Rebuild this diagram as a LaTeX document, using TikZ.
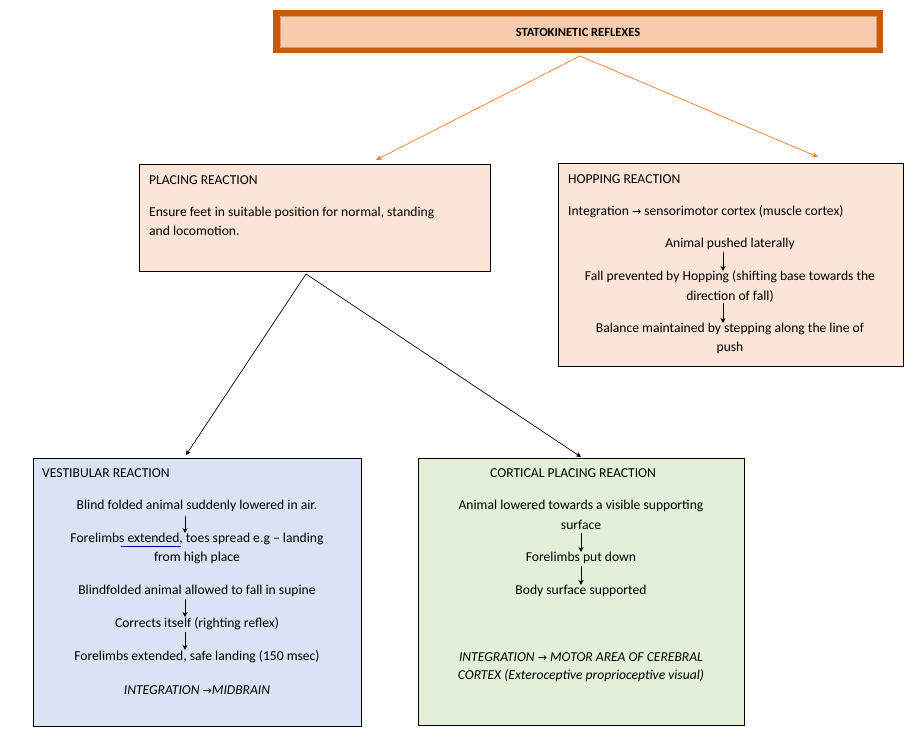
\documentclass[tikz,border=0pt]{standalone}
\usepackage{fontspec}
\setmainfont{Carlito}
\newfontfamily\symf{DejaVu Sans}
\usetikzlibrary{arrows.meta}
\newcommand{\rarr}{{\symf\fontsize{11}{11}\selectfont →}}
\begin{document}
\begin{tikzpicture}[x=1pt,y=-1pt,
  txt/.style={font=\fontsize{13.6}{16}\selectfont, inner sep=0pt},
  lt/.style={txt,anchor=west},
  ar/.style={-{Stealth[length=5pt,width=5pt]},line width=0.7pt},
  oar/.style={-{Stealth[length=6pt,width=5pt]},draw={rgb,255:red,237;green,125;blue,49},line width=0.7pt},
  box/.style={draw=black,line width=0.8pt}]
\useasboundingbox (0,0) rectangle (913,743);
\definecolor{tfill}{HTML}{F8CBAD}\definecolor{tbord}{HTML}{C55A11}
\definecolor{pfill}{HTML}{FBE5D6}\definecolor{vfill}{HTML}{DAE3F3}\definecolor{cfill}{HTML}{E2F0D9}
% title
\fill[tbord] (273,10) rectangle (883,53);
\fill[tfill] (280,16) rectangle (876,47);
\draw[tbord!60!white] (280,16) rectangle (876,47);
\node[txt,font=\bfseries\fontsize{12.5}{15}\selectfont] (title) at (578,32) {STATOKINETIC REFLEXES};
\coordinate (ts) at (580,56);
% boxes
\draw[box,fill=pfill] (139,164) rectangle (490,271);
\draw[box,fill=pfill] (558,163) rectangle (903,366);
\draw[box,fill=vfill] (33,458) rectangle (361,726);
\draw[box,fill=cfill] (418,458) rectangle (744,725);
\coordinate (pl) at (376,160); \coordinate (hp) at (818,157);
\draw[oar] (ts) -- (pl);
\draw[oar] (ts) -- (hp);
\coordinate (pb) at (306,274); \coordinate (vt) at (186,455); \coordinate (ct) at (581,457);
\draw[ar] (pb) -- (vt);
\draw[ar] (pb) -- (ct);
% placing
\node[lt] (p1) at (149,180) {PLACING REACTION};
\node[lt] (p2) at (149,213) {Ensure feet in suitable position for normal, standing};
\node[lt] (p3) at (149,231) {and locomotion.};
% hopping
\node[lt] (h1) at (568,179) {HOPPING REACTION};
\node[lt] (h2) at (568,212) {Integration \rarr{} sensorimotor cortex (muscle cortex)};
\node[txt] (h3) at (730,244) {Animal pushed laterally};
\node[txt] (h4) at (730,277) {Fall prevented by Hopping (shifting base towards the};
\node[txt] (h5) at (730,296) {direction of fall)};
\node[txt] (h6) at (730,329) {Balance maintained by stepping along the line of};
\node[txt] (h7) at (730,348) {push};
\draw[ar] (723,252) -- (723,271);
\draw[ar] (723,303) -- (723,323);
% vestibular
\node[lt] (v1) at (42,473) {VESTIBULAR REACTION};
\node[txt] (v2) at (197,506) {Blind folded animal suddenly lowered in air.};
\node[txt] (v3) at (197,539) {Forelimbs extended, toes spread e.g -- landing};
\node[txt] (v4) at (197,558) {from high place};
\node[txt] (v5) at (197,591) {Blindfolded animal allowed to fall in supine};
\node[txt] (v6) at (197,624) {Corrects itself (righting reflex)};
\node[txt] (v7) at (197,657) {Forelimbs extended, safe landing (150 msec)};
\node[txt,font=\itshape\fontsize{13.6}{16}\selectfont] (v8) at (197,690) {INTEGRATION \rarr{}MIDBRAIN};
\draw[ar] (185,516) -- (185,533);
\draw[ar] (185,599) -- (185,617);
\draw[ar] (185,632) -- (185,650);
\draw[blue!70!black,line width=0.5pt] (121,546) -- (181,546);
% cortical
\node[lt] (c1) at (490,473) {CORTICAL PLACING REACTION};
\node[txt] (c2) at (581,506) {Animal lowered towards a visible supporting};
\node[txt] (c3) at (581,525) {surface};
\node[txt] (c4) at (581,558) {Forelimbs put down};
\node[txt] (c5) at (581,591) {Body surface supported};
\node[txt,font=\itshape\fontsize{13.6}{16}\selectfont] (c6) at (581,657) {INTEGRATION \rarr{} MOTOR AREA OF CEREBRAL};
\node[txt,font=\itshape\fontsize{13.6}{16}\selectfont] (c7) at (581,676) {CORTEX (Exteroceptive proprioceptive visual)};
\draw[ar] (581,533) -- (581,552);
\draw[ar] (581,566) -- (581,585);
\end{tikzpicture}
\end{document}
